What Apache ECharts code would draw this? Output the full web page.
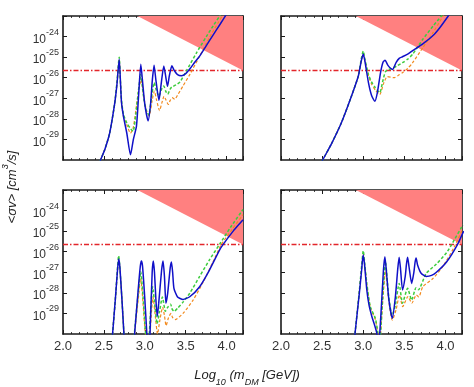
<!DOCTYPE html>
<html><head><meta charset="utf-8">
<script src="https://cdn.jsdelivr.net/npm/echarts/dist/echarts.min.js"></script>
<style>html,body{margin:0;padding:0;background:#fff}#c{width:474px;height:387px}</style>
</head><body><div id="c"></div>
<script>
// x = log10(mDM/GeV), y = log10(<sigma v> / cm^3 s^-1)
const X_MIN = 2.0, X_MAX = 4.2, X_STEP = 0.5;
const Y_MIN_EXP = -30, Y_MAX_EXP = -23;
const Y_LABEL_EXPS = [-24, -25, -26, -27, -28, -29];
const RELIC_LOG = -25.65;                 // thermal relic cross-section line
const BOUND_PTS = [[2.91, -23.0], [4.2, -25.65], [4.2, -23.0]];  // excluded (red) region

const tlBlue = [[2.40,-31.0],[2.45,-30.1],[2.51,-29.5],[2.57,-28.7],[2.63,-27.3],[2.66,-26.3],[2.687,-25.1],[2.70,-26.0],[2.715,-27.2],[2.74,-27.9],[2.78,-28.7],[2.825,-29.75],[2.86,-29.0],[2.898,-28.35],[2.925,-26.8],[2.951,-25.35],[2.975,-26.3],[3.0,-27.3],[3.04,-28.1],[3.07,-27.3],[3.09,-26.2],[3.113,-25.4],[3.135,-26.1],[3.173,-27.1],[3.20,-26.3],[3.232,-25.43],[3.25,-25.8],[3.277,-26.42],[3.30,-25.9],[3.331,-25.42],[3.36,-25.65],[3.40,-25.85],[3.447,-25.9],[3.50,-25.8],[3.549,-25.58],[3.61,-25.25],[3.67,-24.95],[3.75,-24.45],[3.83,-23.95],[3.92,-23.4],[4.0,-22.9],[4.05,-22.6]];
const tlGreen = [[2.40,-31.0],[2.45,-30.1],[2.51,-29.5],[2.57,-28.7],[2.63,-27.3],[2.66,-26.2],[2.687,-25.0],[2.70,-26.0],[2.715,-27.1],[2.74,-27.8],[2.78,-28.2],[2.83,-28.5],[2.857,-28.6],[2.89,-27.8],[2.92,-26.7],[2.951,-25.84],[2.98,-26.8],[3.01,-27.5],[3.048,-27.8],[3.08,-27.0],[3.114,-26.24],[3.14,-26.6],[3.173,-26.9],[3.20,-26.6],[3.232,-26.4],[3.255,-26.65],[3.28,-26.8],[3.31,-26.55],[3.33,-26.45],[3.38,-26.35],[3.43,-26.2],[3.508,-25.67],[3.63,-24.8],[3.752,-24.0],[3.84,-23.45],[3.915,-23.0],[3.96,-22.7]];
const tlOrange = [[2.40,-31.0],[2.45,-30.1],[2.51,-29.5],[2.57,-28.7],[2.63,-27.3],[2.66,-26.3],[2.687,-25.1],[2.70,-26.0],[2.715,-27.2],[2.74,-27.9],[2.78,-28.3],[2.825,-28.7],[2.86,-28.4],[2.90,-27.3],[2.93,-26.5],[2.955,-26.1],[2.99,-27.0],[3.02,-27.6],[3.053,-27.86],[3.09,-27.1],[3.117,-26.65],[3.145,-27.1],[3.18,-27.6],[3.21,-27.2],[3.235,-26.9],[3.26,-27.1],[3.287,-27.3],[3.31,-27.1],[3.335,-26.97],[3.365,-27.05],[3.40,-26.85],[3.467,-26.4],[3.549,-25.85],[3.67,-24.95],[3.79,-24.05],[3.90,-23.3],[3.96,-22.9]];

const trBlue = [[2.45,-30.5],[2.507,-30.0],[2.61,-29.24],[2.734,-28.19],[2.857,-26.89],[2.94,-25.92],[2.975,-25.2],[3.0,-24.85],[3.02,-25.2],[3.063,-26.24],[3.10,-26.85],[3.14,-27.15],[3.17,-26.75],[3.21,-25.75],[3.24,-25.25],[3.265,-25.15],[3.30,-25.4],[3.355,-25.6],[3.40,-25.25],[3.44,-25.05],[3.476,-24.98],[3.54,-24.85],[3.60,-24.68],[3.724,-24.35],[3.848,-23.95],[3.93,-23.57],[4.033,-23.0],[4.1,-22.6]];
const trGreen = [[2.45,-30.5],[2.507,-30.0],[2.61,-29.24],[2.734,-28.19],[2.857,-26.89],[2.94,-25.92],[2.975,-25.1],[3.0,-24.7],[3.02,-25.1],[3.063,-25.84],[3.10,-26.2],[3.146,-26.48],[3.2,-26.73],[3.235,-26.2],[3.27,-25.7],[3.31,-25.6],[3.353,-25.55],[3.42,-25.4],[3.476,-25.27],[3.54,-25.1],[3.6,-24.86],[3.724,-24.13],[3.848,-23.49],[3.95,-23.0],[4.0,-22.75]];
const trOrange = [[2.45,-30.5],[2.507,-30.0],[2.61,-29.24],[2.734,-28.19],[2.857,-26.89],[2.94,-25.92],[2.975,-25.2],[3.0,-24.85],[3.02,-25.2],[3.063,-25.9],[3.10,-26.3],[3.146,-26.6],[3.2,-26.82],[3.245,-26.3],[3.29,-25.95],[3.33,-25.97],[3.374,-26.0],[3.42,-25.9],[3.476,-25.76],[3.54,-25.55],[3.6,-25.27],[3.724,-24.54],[3.848,-23.81],[3.97,-23.0],[4.02,-22.7]];

const blBlue = [[2.58,-31.5],[2.606,-30.0],[2.64,-28.3],[2.668,-26.8],[2.682,-26.35],[2.696,-26.8],[2.72,-28.3],[2.745,-30.0],[2.77,-31.5],[2.85,-31.2],[2.875,-30.0],[2.92,-27.8],[2.945,-26.7],[2.958,-26.45],[2.972,-26.7],[3.0,-28.3],[3.025,-30.0],[3.04,-31.0],[3.05,-31.0],[3.065,-29.8],[3.09,-27.0],[3.104,-26.45],[3.118,-27.0],[3.135,-28.3],[3.152,-29.15],[3.17,-28.5],[3.205,-26.9],[3.223,-26.45],[3.24,-27.2],[3.258,-28.5],[3.28,-28.0],[3.31,-26.8],[3.325,-26.5],[3.34,-27.0],[3.356,-27.78],[3.40,-28.2],[3.467,-28.32],[3.549,-28.19],[3.67,-27.7],[3.79,-26.89],[3.913,-25.92],[3.96,-25.63],[4.08,-25.0],[4.2,-24.45]];
const blGreen = [[2.58,-31.5],[2.606,-30.0],[2.64,-28.3],[2.668,-26.7],[2.68,-26.2],[2.694,-26.7],[2.72,-28.3],[2.745,-30.0],[2.77,-31.5],[2.85,-31.2],[2.872,-30.0],[2.92,-28.0],[2.95,-26.97],[2.98,-28.3],[3.0,-29.5],[3.015,-30.3],[3.03,-31.0],[3.04,-31.0],[3.055,-30.0],[3.095,-27.7],[3.125,-28.7],[3.15,-29.5],[3.18,-28.9],[3.215,-28.2],[3.235,-28.6],[3.25,-28.9],[3.28,-28.7],[3.315,-28.55],[3.335,-28.8],[3.36,-28.9],[3.40,-28.75],[3.467,-28.45],[3.549,-28.02],[3.67,-27.2],[3.79,-26.4],[3.915,-25.63],[4.05,-24.8],[4.2,-23.95]];
const blOrange = [[2.58,-31.5],[2.606,-30.0],[2.64,-28.3],[2.668,-26.85],[2.682,-26.4],[2.696,-26.85],[2.72,-28.3],[2.745,-30.0],[2.77,-31.5],[2.85,-31.2],[2.875,-30.0],[2.92,-28.3],[2.95,-27.3],[2.98,-28.6],[3.0,-29.7],[3.02,-30.5],[3.03,-31.0],[3.045,-31.0],[3.06,-30.2],[3.10,-28.2],[3.13,-29.2],[3.155,-30.0],[3.185,-29.3],[3.218,-28.7],[3.24,-29.1],[3.26,-29.6],[3.29,-29.2],[3.318,-29.0],[3.34,-29.2],[3.37,-29.3],[3.467,-29.0],[3.59,-28.35],[3.71,-27.5],[3.833,-26.5],[3.935,-25.65],[4.07,-24.9],[4.2,-24.2]];

const brBlue = [[2.87,-31.2],[2.899,-30.0],[2.95,-28.1],[2.98,-26.9],[2.998,-26.16],[3.015,-26.6],[3.043,-27.86],[3.07,-28.6],[3.105,-29.16],[3.14,-29.6],[3.167,-30.0],[3.18,-30.5],[3.19,-30.5],[3.2,-30.0],[3.22,-28.67],[3.245,-26.9],[3.263,-26.24],[3.28,-26.9],[3.31,-28.3],[3.353,-29.24],[3.39,-28.2],[3.42,-26.8],[3.436,-26.27],[3.452,-26.8],[3.477,-27.86],[3.51,-27.2],[3.525,-26.6],[3.539,-26.27],[3.555,-26.7],[3.588,-27.54],[3.615,-27.0],[3.63,-26.5],[3.642,-26.3],[3.66,-26.65],[3.703,-27.05],[3.765,-27.2],[3.83,-27.15],[3.889,-27.0],[4.012,-26.5],[4.145,-25.65],[4.22,-25.0]];
const brGreen = [[2.87,-31.2],[2.899,-30.0],[2.95,-28.0],[2.98,-26.7],[3.0,-25.95],[3.018,-26.6],[3.043,-27.54],[3.085,-28.67],[3.147,-29.24],[3.175,-29.9],[3.188,-30.4],[3.2,-30.4],[3.21,-30.0],[3.24,-28.0],[3.27,-26.48],[3.29,-27.3],[3.31,-28.2],[3.35,-29.1],[3.39,-28.6],[3.436,-27.54],[3.477,-28.5],[3.539,-27.78],[3.588,-28.35],[3.641,-27.75],[3.67,-27.85],[3.765,-27.05],[3.889,-26.6],[4.012,-26.05],[4.074,-25.65],[4.21,-24.7]];
const brOrange = [[2.87,-31.2],[2.899,-30.0],[2.95,-28.05],[2.98,-26.8],[3.0,-26.1],[3.018,-26.7],[3.043,-27.6],[3.085,-28.7],[3.147,-29.3],[3.175,-29.9],[3.188,-30.4],[3.2,-30.4],[3.21,-30.0],[3.24,-28.2],[3.27,-26.95],[3.29,-27.6],[3.31,-28.4],[3.353,-29.33],[3.40,-28.8],[3.44,-28.1],[3.48,-28.67],[3.543,-28.18],[3.59,-28.5],[3.645,-28.1],[3.675,-28.2],[3.724,-27.7],[3.847,-27.3],[3.97,-26.7],[4.095,-25.85],[4.21,-24.9]];

const PANELS = [
  {blue: tlBlue, green: tlGreen, orange: tlOrange},
  {blue: trBlue, green: trGreen, orange: trOrange},
  {blue: blBlue, green: blGreen, orange: blOrange},
  {blue: brBlue, green: brGreen, orange: brOrange}
];

// ---- layout / styles ----
const GRIDS = [
  {left: 63, top: 16, width: 180, height: 144},
  {left: 281, top: 16, width: 181, height: 144},
  {left: 63, top: 190, width: 180, height: 144},
  {left: 281, top: 190, width: 181, height: 144}
];
const FRAME = '#1a1a1a';
const TXT = '#333';
const FONT = 'Liberation Sans, Arial, sans-serif';
const toVal = p => [p[0], Math.pow(10, p[1])];

const xAxes = [], yAxes = [], series = [];
GRIDS.forEach((g, i) => {
  const bottomRow = i >= 2, leftCol = i % 2 === 0;
  xAxes.push({
    type: 'value', gridIndex: i, min: X_MIN, max: X_MAX, interval: X_STEP, position: 'bottom',
    axisLine: {show: true, onZero: false, lineStyle: {color: FRAME, width: 1.6}},
    axisTick: {show: true, inside: true, length: 4, lineStyle: {color: FRAME, width: 1}},
    minorTick: {show: true, splitNumber: 5, length: 2, lineStyle: {color: FRAME, width: 0.8}},
    splitLine: {show: false}, minorSplitLine: {show: false},
    axisLabel: {show: bottomRow, showMaxLabel: false, margin: 6, fontSize: 13, color: TXT, fontFamily: FONT,
      formatter: v => (Math.abs(v / X_STEP - Math.round(v / X_STEP)) < 1e-6 ? v.toFixed(1) : '')}
  });
  yAxes.push({
    type: 'log', logBase: 10, gridIndex: i, min: Math.pow(10, Y_MIN_EXP), max: Math.pow(10, Y_MAX_EXP),
    splitNumber: 7, position: 'left',
    axisLine: {show: true, onZero: false, lineStyle: {color: FRAME, width: 1.6}},
    axisTick: {show: true, inside: true, length: 4, lineStyle: {color: FRAME, width: 1}},
    splitLine: {show: false},
    axisLabel: {show: leftCol, margin: 4, color: TXT, fontFamily: FONT,
      formatter: v => {
        const e = Math.round(Math.log10(v));
        return Y_LABEL_EXPS.indexOf(e) >= 0 ? '{b|10}{s|' + e + '}' : '';
      },
      rich: {
        b: {fontSize: 12, color: TXT, lineHeight: 18, verticalAlign: 'bottom', fontFamily: FONT},
        s: {fontSize: 9, color: TXT, lineHeight: 18, verticalAlign: 'top', fontFamily: FONT}
      }
    }
  });

  // excluded region (polygon through the axes' own scales)
  series.push({type: 'custom', xAxisIndex: i, yAxisIndex: i, data: [0], silent: true, z: 1, clip: true,
    renderItem: (params, api) => ({
      type: 'polygon',
      shape: {points: BOUND_PTS.map(p => api.coord(toVal(p)))},
      style: {fill: '#ff8080'}
    })});
  // relic line
  series.push({type: 'line', xAxisIndex: i, yAxisIndex: i,
    data: [[X_MIN, Math.pow(10, RELIC_LOG)], [X_MAX, Math.pow(10, RELIC_LOG)]], symbol: 'none',
    lineStyle: {color: '#e3262b', width: 1.3, type: [5, 2, 1.5, 2]}, z: 2});
  const P = PANELS[i];
  const common = {type: 'line', xAxisIndex: i, yAxisIndex: i, symbol: 'none', smooth: 0.2};
  series.push(Object.assign({}, common, {data: P.orange.map(toVal),
    lineStyle: {color: '#f28a1e', width: 1.2, type: [3, 2]}, z: 3}));
  series.push(Object.assign({}, common, {data: P.green.map(toVal),
    lineStyle: {color: '#3ccc3c', width: 1.5, type: [3, 2]}, z: 4}));
  series.push(Object.assign({}, common, {data: P.blue.map(toVal),
    lineStyle: {color: '#1010c8', width: 1.5}, z: 5}));
});
GRIDS.forEach((g, i) => {
  xAxes.push(Object.assign({}, xAxes[i], {position: 'top', axisLabel: {show: false}}));
  yAxes.push(Object.assign({}, yAxes[i], {position: 'right', axisLabel: {show: false}}));
});

const chart = echarts.init(document.getElementById('c'), null, {renderer: 'canvas'});
chart.setOption({
  animation: false,
  backgroundColor: '#fff',
  grid: GRIDS.map(g => Object.assign({containLabel: false, outerBoundsMode: 'none', show: false}, g)),
  xAxis: xAxes,
  yAxis: yAxes,
  series: series,
  graphic: [
    {type: 'text', x: 247, y: 378, style: {
      text: '{i|Log}{sub|10}{i| (m}{sub|DM}{i| [GeV])}', align: 'center', verticalAlign: 'middle',
      rich: {
        i: {fontSize: 13, fontStyle: 'italic', fill: '#222', lineHeight: 18, verticalAlign: 'top', fontFamily: FONT},
        sub: {fontSize: 9, fontStyle: 'italic', fill: '#222', lineHeight: 18, verticalAlign: 'bottom', fontFamily: FONT}
      }}},
    {type: 'text', x: 10, y: 187, rotation: Math.PI / 2, style: {
      text: '{i|<σv> [cm}{sup|3}{i|/s]}', align: 'center', verticalAlign: 'middle',
      rich: {
        i: {fontSize: 13, fontStyle: 'italic', fill: '#222', lineHeight: 18, verticalAlign: 'bottom', fontFamily: FONT},
        sup: {fontSize: 9, fontStyle: 'italic', fill: '#222', lineHeight: 18, verticalAlign: 'top', fontFamily: FONT}
      }}}
  ]
});
</script></body></html>
